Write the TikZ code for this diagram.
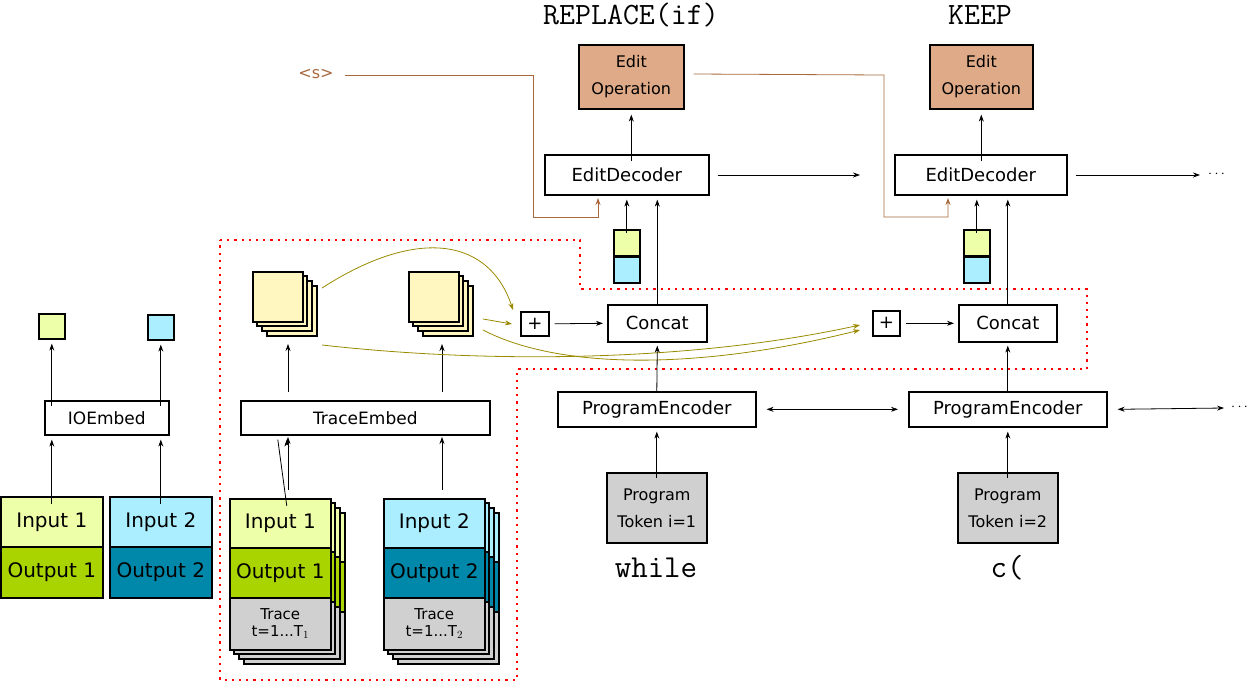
\documentclass[tikz,border=0pt]{standalone}
\usepackage{fontspec}
\setmainfont{DejaVu Sans}
\usetikzlibrary{arrows.meta}
\definecolor{lgreen}{HTML}{EEFFAA}
\definecolor{dgreen}{HTML}{AAD400}
\definecolor{lblue}{HTML}{AAEEFF}
\definecolor{dblue}{HTML}{0088AA}
\definecolor{lgray}{HTML}{D0D0D0}
\definecolor{pyell}{HTML}{FFF6C0}
\definecolor{editc}{HTML}{DEAA87}
\definecolor{brn}{HTML}{A8683C}
\definecolor{olv}{HTML}{9A8A00}
\tikzset{
 box/.style={draw,line width=1.6pt,inner sep=0pt,anchor=north west},
 wbox/.style={box,fill=white,font=\fontsize{18}{20}\selectfont},
 lay/.style={draw,line width=1.6pt},
 arr/.style={-{Stealth[length=7pt,width=5pt]},line width=0.8pt},
 darr/.style={{Stealth[length=7pt,width=5pt]}-{Stealth[length=7pt,width=5pt]},line width=0.8pt},
 barr/.style={arr,brn},
 oarr/.style={arr,olv},
 mono/.style={font=\ttfamily\fontsize{32}{32}\selectfont},
}
\begin{document}
\begin{tikzpicture}[x=1pt,y=-1pt]
\useasboundingbox (0,0) rectangle (1249,681);
% red region
\draw[red,line width=2.2pt,dash pattern=on 2.2pt off 5pt] (220,240)--(580,240)--(580,289)--(1087,289)--(1087,369)--(517,369)--(517,680)--(220,680)--cycle;
% left IO
\node[box,fill=lgreen,minimum width=26,minimum height=25] (sq1) at (38,313) {};
\node[box,fill=lblue,minimum width=26,minimum height=25] (sq2) at (147,314) {};
\node[wbox,minimum width=124,minimum height=34,font=\fontsize{17}{19}\selectfont] (ioe) at (44,400) {IOEmbed};
\node[box,fill=lgreen,minimum width=102,minimum height=50,font=\fontsize{20}{22}\selectfont] (in1) at (0,496) {Input 1};
\node[box,fill=dgreen,minimum width=102,minimum height=51,font=\fontsize{20}{22}\selectfont] (out1) at (0,546) {Output 1};
\node[box,fill=lblue,minimum width=102,minimum height=50,font=\fontsize{20}{22}\selectfont] (in2) at (109,496) {Input 2};
\node[box,fill=dblue,minimum width=102,minimum height=51,font=\fontsize{20}{22}\selectfont] (out2) at (109,546) {Output 2};
\draw[arr] ([yshift=-8pt]in1.north) -- ([yshift=-4pt]ioe.south-|in1);
\draw[arr] ([yshift=-8pt]in2.north) -- ([yshift=-4pt]ioe.south-|in2);
\draw[arr] ([yshift=-6pt]ioe.north-|in1) -- ([yshift=-4pt]sq1.south-|in1);
\draw[arr] ([yshift=-6pt]ioe.north-|in2) -- ([yshift=-4pt]sq2.south-|in2);
% trace stacks
\foreach \X/\I/\O/\Ic/\Oc/\T/\n in {229/Input 1/Output 1/lgreen/dgreen/1/L,383/Input 2/Output 2/lblue/dblue/2/R}{
 \foreach \k in {3,2,1}{
  \filldraw[lay,fill=lgray] (\X+5*\k,498+5*\k) rectangle ++(101,151);
  \filldraw[lay,fill=\Ic] (\X+5*\k,498+5*\k) rectangle ++(101,49);
  \filldraw[lay,fill=\Oc] (\X+5*\k,547+5*\k) rectangle ++(101,50);
  \filldraw[lay,fill=lgray] (\X+5*\k,597+5*\k) rectangle ++(101,52);
 }
 \node[box,fill=\Ic,minimum width=101,minimum height=49,font=\fontsize{20}{22}\selectfont] (tin\n) at (\X,498) {\I};
 \node[box,fill=\Oc,minimum width=101,minimum height=50,font=\fontsize{20}{22}\selectfont] (tout\n) at (\X,547) {\O};
 \node[box,fill=lgray,minimum width=101,minimum height=52,align=center,font=\fontsize{15}{17}\selectfont] (tr\n) at (\X,597) {Trace\\t=1...T$_{\T}$};
}
\node[wbox,minimum width=249,minimum height=34,font=\fontsize{17}{19}\selectfont] (te) at (240,400) {TraceEmbed};
% yellow stacks
\foreach \X/\n in {252/L,408/R}{
 \foreach \k in {3,2,1}{\filldraw[lay,fill=pyell] (\X+5*\k,271+5*\k) rectangle ++(50,50);}
 \node[box,fill=pyell,minimum width=50,minimum height=50] (y\n) at (\X,271) {};
}
\draw[arr] ([yshift=-8pt]tinL.north-|yL.center) ++(9,0) -- ([yshift=-4pt]te.south-|yL.center) ++(9,0);
\draw[arr] (288,490) -- (288,437);
\draw[arr] (442,490) -- (442,437);
\draw[arr] (288,392) -- (288,344);
\draw[arr] (442,392) -- (442,344);
% plus, concat
\node[box,fill=white,minimum width=28,minimum height=24,font=\fontsize{18}{18}\selectfont] (p1) at (520,311) {+};
\node[box,fill=white,minimum width=27,minimum height=25,font=\fontsize{18}{18}\selectfont] (p2) at (872,310) {+};
\node[wbox,minimum width=99,minimum height=37] (cc1) at (607,304) {Concat};
\node[wbox,minimum width=98,minimum height=37] (cc2) at (958,304) {Concat};
\draw[arr] ([xshift=5pt]p1.east) -- ([xshift=-4pt]cc1.west);
\draw[arr] ([xshift=5pt]p2.east) -- ([xshift=-4pt]cc2.west);
% olive arrows
\draw[oarr] (322,288) .. controls (420,225) and (490,240) .. (513,310);
\draw[oarr] (483,319) -- (512,324);
\draw[oarr] (322,345) .. controls (500,365) and (700,360) .. (860,325);
\draw[oarr] (483,330) .. controls (560,370) and (700,370) .. (860,330);
% program encoders
\node[wbox,minimum width=198,minimum height=35] (pe1) at (557,391) {ProgramEncoder};
\node[wbox,minimum width=198,minimum height=35] (pe2) at (908,391) {ProgramEncoder};
\node[box,fill=lgray,minimum width=100,minimum height=70,align=center,font=\fontsize{16}{27}\selectfont] (pt1) at (606,472) {Program\\Token i=1};
\node[box,fill=lgray,minimum width=100,minimum height=70,align=center,font=\fontsize{16}{27}\selectfont] (pt2) at (957,472) {Program\\Token i=2};
\node[mono] (w1) at (656,568) {while};
\node[mono] (w2) at (1007,568) {c(};
\draw[arr] ([yshift=-6pt]pt1.north) -- ([yshift=-4pt]pe1.south);
\draw[arr] ([yshift=-6pt]pt2.north) -- ([yshift=-4pt]pe2.south);
\draw[arr] (pe1.north) -- ([yshift=-3pt]cc1.south);
\draw[arr] (pe2.north) -- ([yshift=-3pt]cc2.south);
\draw[darr] ([xshift=10pt]pe1.east) -- ([xshift=-10pt]pe2.west);
\coordinate (e3) at (1224,408);
\draw[darr] ([xshift=10pt]pe2.east) -- (e3);
\node[font=\fontsize{14}{14}\selectfont,anchor=west,inner sep=0pt] (dd2) at (1231,407) {$\cdots$};
% decoders
\node[wbox,minimum width=164,minimum height=40] (ed1) at (544,154) {EditDecoder};
\node[wbox,minimum width=172,minimum height=40] (ed2) at (894,154) {EditDecoder};
\node[box,fill=editc,minimum width=105,minimum height=64,align=center,font=\fontsize{16}{27}\selectfont] (eo1) at (578,44) {Edit\\Operation};
\node[box,fill=editc,minimum width=103,minimum height=64,align=center,font=\fontsize{16}{27}\selectfont] (eo2) at (929,44) {Edit\\Operation};
\node[font=\ttfamily\fontsize{31}{31}\selectfont] (l1) at (631,15) {REPLACE(if)};
\node[font=\ttfamily\fontsize{31}{31}\selectfont] (l2) at (980,15) {KEEP};
\draw[arr] ([yshift=-7pt]ed1.north-|eo1) -- ([yshift=-5pt]eo1.south);
\draw[arr] ([yshift=-7pt]ed2.north-|eo2) -- ([yshift=-5pt]eo2.south);
\coordinate (e1) at (860,175);
\coordinate (e2) at (1200,175);
\draw[arr] ([xshift=8pt]ed1.east|-e1) -- (e1);
\draw[arr] ([xshift=8pt]ed2.east|-e2) -- (e2);
\node[font=\fontsize{14}{14}\selectfont,anchor=west,inner sep=0pt] (dd1) at (1208,174) {$\cdots$};
% small vector stacks
\node[box,fill=lgreen,minimum width=26,minimum height=26] (vg1) at (613,229) {};
\node[box,fill=lblue,minimum width=26,minimum height=26] (vb1) at (613,256) {};
\node[box,fill=lgreen,minimum width=26,minimum height=26] (vg2) at (963,229) {};
\node[box,fill=lblue,minimum width=26,minimum height=26] (vb2) at (963,256) {};
\draw[arr] ([yshift=-4pt]vg1.north) -- ([yshift=-4pt]ed1.south-|vg1);
\draw[arr] ([yshift=-4pt]vg2.north) -- ([yshift=-4pt]ed2.south-|vg2);
\draw[arr] (cc1.north) -- ([yshift=-4pt]ed1.south-|cc1);
\draw[arr] (cc2.north) -- ([yshift=-4pt]ed2.south-|cc2);
% brown
\node[brn,font=\fontsize{16}{16}\selectfont] (s) at (316,74) {<s>};
\draw[barr] (345,75) -- (533,75) -- (533,217) -- (598,217) -- (598,198);
\draw[barr] ([xshift=9pt]eo1.east|-s) -- (884,75) -- (884,217) -- (948,217) -- (948,198);
\end{tikzpicture}
\end{document}
